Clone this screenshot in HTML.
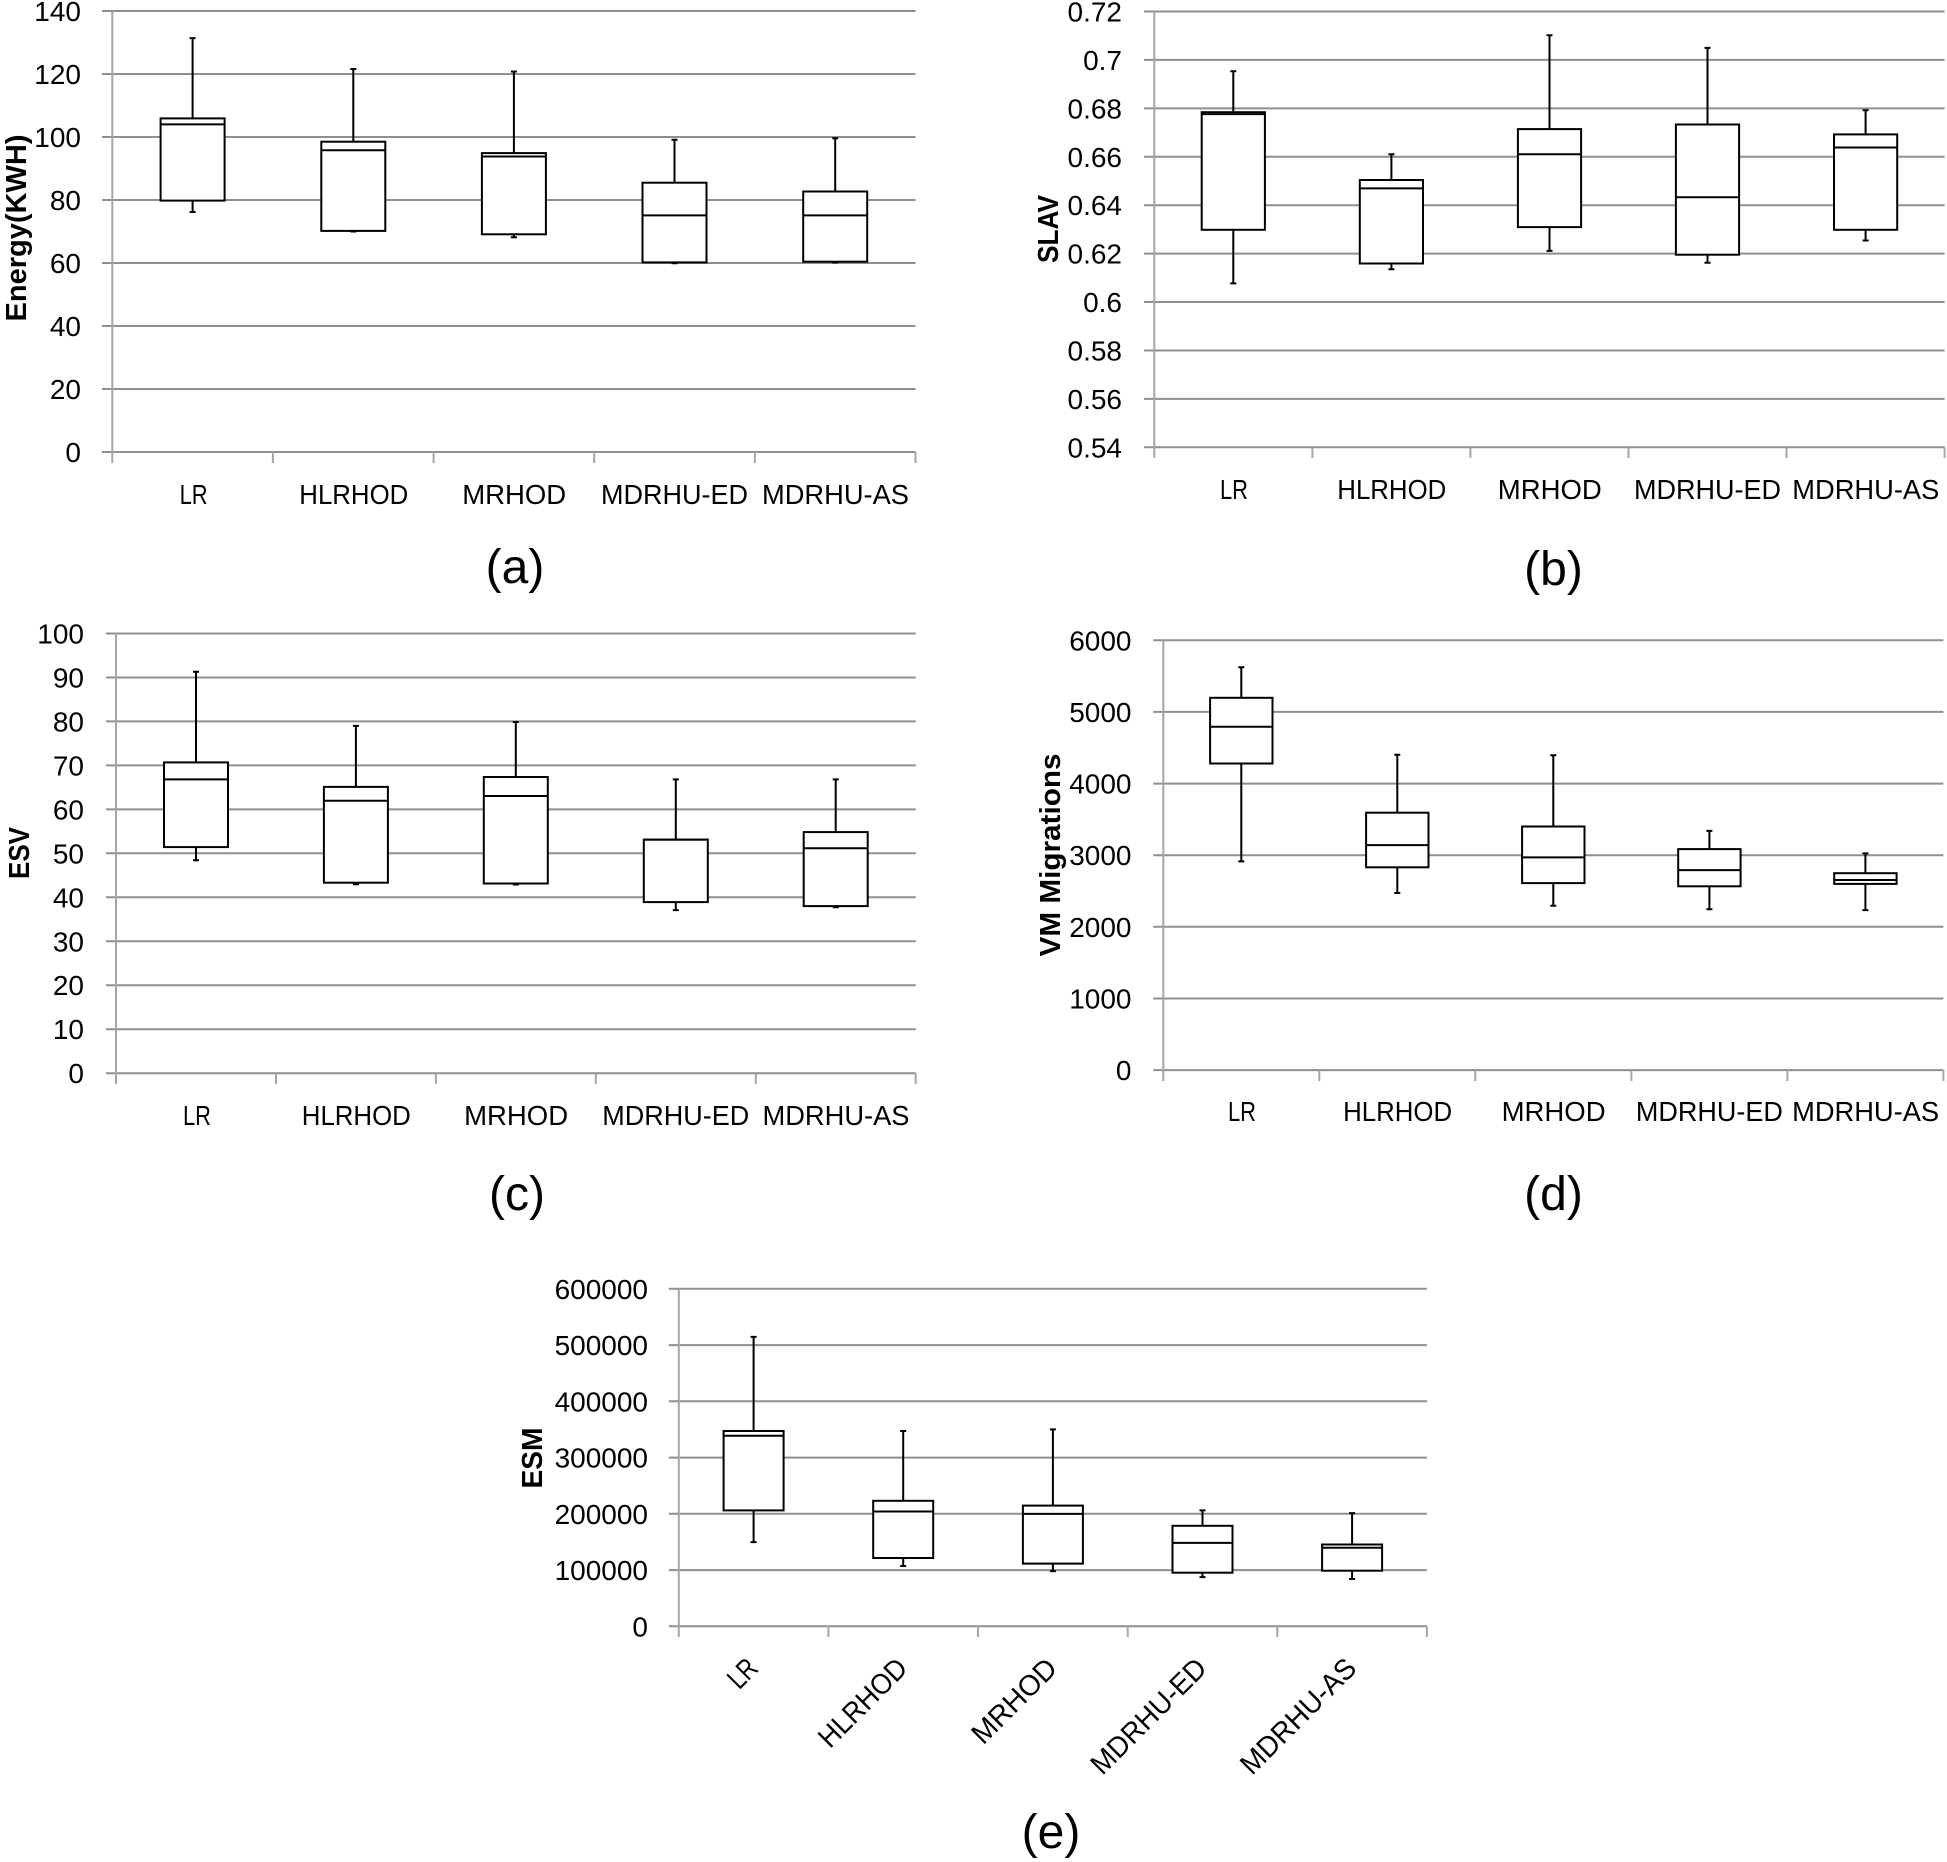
<!DOCTYPE html>
<html><head><meta charset="utf-8"><style>
html,body{margin:0;padding:0;background:#fff;}
svg{display:block;}
.g{stroke:#8f8f8f;stroke-width:2;fill:none}
.ax{stroke:#a6a6a6;stroke-width:2;fill:none}
.b{fill:#fff;stroke:#000;stroke-width:2}
.w{stroke:#000;stroke-width:2;fill:none}
.t{font-family:"Liberation Sans",Arial,sans-serif;font-size:28px;fill:#000}
.yl{font-family:"Liberation Sans",Arial,sans-serif;font-size:29px;font-weight:bold;fill:#000}
.cap{font-family:"Liberation Sans",Arial,sans-serif;font-size:48px;fill:#000}
</style></head><body>
<svg width="1947" height="1862" viewBox="0 0 1947 1862" xmlns="http://www.w3.org/2000/svg">
<rect width="1947" height="1862" fill="#fff"/>

<!-- ===== Panel A ===== -->
<path class="g" d="M102 452H915.5M102 389H915.5M102 326H915.5M102 263H915.5M102 200H915.5M102 137H915.5M102 74H915.5M102 11H915.5"/>
<path class="ax" d="M112.3 11V463M272.9 452V463M433.6 452V463M594.2 452V463M754.9 452V463M915.5 452V463"/>
<g class="t" text-anchor="end">
<text x="81" y="462">0</text><text x="81" y="399">20</text><text x="81" y="336">40</text><text x="81" y="273">60</text>
<text x="81" y="210">80</text><text x="81" y="147">100</text><text x="81" y="84">120</text><text x="81" y="21">140</text>
</g>
<rect class="b" x="160.6" y="118.4" width="64" height="82.2"/>
<path class="w" d="M192.6 118.4V38.1M189.6 38.1H195.6M192.6 200.6V212M189.6 212H195.6M160.6 124.4H224.6"/>
<rect class="b" x="321.3" y="141.7" width="64" height="89.2"/>
<path class="w" d="M353.3 141.7V69M350.3 69H356.3M353.3 230.9V231.5M350.3 231.5H356.3M321.3 150.2H385.3"/>
<rect class="b" x="481.9" y="153.1" width="64" height="81.2"/>
<path class="w" d="M513.9 153.1V71.5M510.9 71.5H516.9M513.9 234.3V237.2M510.9 237.2H516.9M481.9 156.5H545.9"/>
<rect class="b" x="642.5" y="182.7" width="64" height="79.7"/>
<path class="w" d="M674.5 182.7V139.8M671.5 139.8H677.5M674.5 262.4V263.3M671.5 263.3H677.5M642.5 215.4H706.5"/>
<rect class="b" x="803.2" y="191.5" width="64" height="70.2"/>
<path class="w" d="M835.2 191.5V138.3M832.2 138.3H838.2M835.2 261.7V262.4M832.2 262.4H838.2M803.2 215.4H867.2"/>
<g class="t" text-anchor="middle">
<text x="193.6" y="504" textLength="28" lengthAdjust="spacingAndGlyphs">LR</text>
<text x="353.8" y="504" textLength="109" lengthAdjust="spacingAndGlyphs">HLRHOD</text>
<text x="514.2" y="504" textLength="104" lengthAdjust="spacingAndGlyphs">MRHOD</text>
<text x="674.5" y="504" textLength="147" lengthAdjust="spacingAndGlyphs">MDRHU-ED</text>
<text x="835.5" y="504" textLength="147" lengthAdjust="spacingAndGlyphs">MDRHU-AS</text>
</g>
<text class="yl" text-anchor="middle" transform="translate(26,228) rotate(-90)" textLength="187" lengthAdjust="spacingAndGlyphs">Energy(KWH)</text>
<text class="cap" x="515" y="583" text-anchor="middle">(a)</text>

<!-- ===== Panel B ===== -->
<path class="g" d="M1144 447.3H1944.6M1144 398.9H1944.6M1144 350.5H1944.6M1144 302H1944.6M1144 253.6H1944.6M1144 205.2H1944.6M1144 156.8H1944.6M1144 108.4H1944.6M1144 59.9H1944.6M1144 11.5H1944.6"/>
<path class="ax" d="M1154.3 11.5V458M1312.4 447.3V458M1470.4 447.3V458M1628.5 447.3V458M1786.5 447.3V458M1944.6 447.3V458"/>
<g class="t" text-anchor="end">
<text x="1122" y="457.3">0.54</text><text x="1122" y="408.9">0.56</text><text x="1122" y="360.5">0.58</text>
<text x="1122" y="312">0.6</text><text x="1122" y="263.6">0.62</text><text x="1122" y="215.2">0.64</text>
<text x="1122" y="166.8">0.66</text><text x="1122" y="118.4">0.68</text><text x="1122" y="69.9">0.7</text><text x="1122" y="21.5">0.72</text>
</g>
<rect class="b" x="1201.7" y="112.2" width="63.2" height="117.6"/>
<path class="w" d="M1233.3 112.2V71.2M1230.3 71.2H1236.3M1233.3 229.8V283.4M1230.3 283.4H1236.3M1201.7 114.1H1264.9"/>
<rect class="b" x="1359.8" y="180" width="63.2" height="83.5"/>
<path class="w" d="M1391.4 180V154.3M1388.4 154.3H1394.4M1391.4 263.5V269.2M1388.4 269.2H1394.4M1359.8 188.4H1423"/>
<rect class="b" x="1517.9" y="129.1" width="63.2" height="98"/>
<path class="w" d="M1549.5 129.1V35.2M1546.5 35.2H1552.5M1549.5 227.1V250.9M1546.5 250.9H1552.5M1517.9 154.3H1581.1"/>
<rect class="b" x="1675.9" y="124.5" width="63.2" height="130.2"/>
<path class="w" d="M1707.5 124.5V47.9M1704.5 47.9H1710.5M1707.5 254.7V262.7M1704.5 262.7H1710.5M1675.9 197.2H1739.1"/>
<rect class="b" x="1834" y="134.4" width="63.2" height="95.4"/>
<path class="w" d="M1865.6 134.4V110.3M1862.6 110.3H1868.6M1865.6 229.8V240.5M1862.6 240.5H1868.6M1834 147.5H1897.2"/>
<g class="t" text-anchor="middle">
<text x="1234" y="499" textLength="28" lengthAdjust="spacingAndGlyphs">LR</text>
<text x="1391.8" y="499" textLength="109" lengthAdjust="spacingAndGlyphs">HLRHOD</text>
<text x="1549.8" y="499" textLength="104" lengthAdjust="spacingAndGlyphs">MRHOD</text>
<text x="1707.5" y="499" textLength="147" lengthAdjust="spacingAndGlyphs">MDRHU-ED</text>
<text x="1865.8" y="499" textLength="147" lengthAdjust="spacingAndGlyphs">MDRHU-AS</text>
</g>
<text class="yl" text-anchor="middle" transform="translate(1058,229) rotate(-90)" textLength="68" lengthAdjust="spacingAndGlyphs">SLAV</text>
<text class="cap" x="1553.5" y="585" text-anchor="middle">(b)</text>

<!-- ===== Panel C ===== -->
<path class="g" d="M106 1073.2H915.7M106 1029.2H915.7M106 985.2H915.7M106 941.3H915.7M106 897.3H915.7M106 853.3H915.7M106 809.4H915.7M106 765.4H915.7M106 721.4H915.7M106 677.5H915.7M106 633.5H915.7"/>
<path class="ax" d="M116 633.5V1084M276 1073.2V1084M435.9 1073.2V1084M595.8 1073.2V1084M755.8 1073.2V1084M915.7 1073.2V1084"/>
<g class="t" text-anchor="end">
<text x="84" y="1083.2">0</text><text x="84" y="1039.2">10</text><text x="84" y="995.2">20</text><text x="84" y="951.3">30</text>
<text x="84" y="907.3">40</text><text x="84" y="863.3">50</text><text x="84" y="819.4">60</text><text x="84" y="775.4">70</text>
<text x="84" y="731.4">80</text><text x="84" y="687.5">90</text><text x="84" y="643.5">100</text>
</g>
<rect class="b" x="164" y="762.4" width="64" height="84.7"/>
<path class="w" d="M196 762.4V671.7M193 671.7H199M196 847.1V860.2M193 860.2H199M164 779.4H228"/>
<rect class="b" x="323.9" y="786.9" width="64" height="95.8"/>
<path class="w" d="M355.9 786.9V725.9M352.9 725.9H358.9M355.9 882.7V884.3M352.9 884.3H358.9M323.9 800.8H387.9"/>
<rect class="b" x="483.8" y="777" width="64" height="106.5"/>
<path class="w" d="M515.8 777V722M512.8 722H518.8M515.8 883.5V884.5M512.8 884.5H518.8M483.8 796H547.8"/>
<rect class="b" x="643.8" y="839.6" width="64" height="62.5"/>
<path class="w" d="M675.8 839.6V779.4M672.8 779.4H678.8M675.8 902.1V910.1M672.8 910.1H678.8M643.8 839.6H707.8"/>
<rect class="b" x="803.7" y="832.1" width="64" height="74"/>
<path class="w" d="M835.7 832.1V779.4M832.7 779.4H838.7M835.7 906.1V907.3M832.7 907.3H838.7M803.7 848.3H867.7"/>
<g class="t" text-anchor="middle">
<text x="197" y="1125" textLength="28" lengthAdjust="spacingAndGlyphs">LR</text>
<text x="356.3" y="1125" textLength="109" lengthAdjust="spacingAndGlyphs">HLRHOD</text>
<text x="516.1" y="1125" textLength="104" lengthAdjust="spacingAndGlyphs">MRHOD</text>
<text x="675.8" y="1125" textLength="147" lengthAdjust="spacingAndGlyphs">MDRHU-ED</text>
<text x="836" y="1125" textLength="147" lengthAdjust="spacingAndGlyphs">MDRHU-AS</text>
</g>
<text class="yl" text-anchor="middle" transform="translate(29,853) rotate(-90)" textLength="52" lengthAdjust="spacingAndGlyphs">ESV</text>
<text class="cap" x="517" y="1210" text-anchor="middle">(c)</text>

<!-- ===== Panel D ===== -->
<path class="g" d="M1153.3 1070.1H1943.4M1153.3 998.5H1943.4M1153.3 926.8H1943.4M1153.3 855.2H1943.4M1153.3 783.6H1943.4M1153.3 711.9H1943.4M1153.3 640.3H1943.4"/>
<path class="ax" d="M1163.3 640.3V1081M1319.3 1070.1V1081M1475.3 1070.1V1081M1631.4 1070.1V1081M1787.4 1070.1V1081M1943.4 1070.1V1081"/>
<g class="t" text-anchor="end">
<text x="1131.5" y="1080.1">0</text><text x="1131.5" y="1008.5">1000</text><text x="1131.5" y="936.8">2000</text>
<text x="1131.5" y="865.2">3000</text><text x="1131.5" y="793.6">4000</text><text x="1131.5" y="721.9">5000</text><text x="1131.5" y="650.3">6000</text>
</g>
<rect class="b" x="1210.1" y="697.8" width="62.4" height="65.7"/>
<path class="w" d="M1241.3 697.8V667.3M1238.3 667.3H1244.3M1241.3 763.5V861.4M1238.3 861.4H1244.3M1210.1 726.7H1272.5"/>
<rect class="b" x="1366.1" y="812.7" width="62.4" height="54.6"/>
<path class="w" d="M1397.3 812.7V754.8M1394.3 754.8H1400.3M1397.3 867.3V893M1394.3 893H1400.3M1366.1 845.1H1428.5"/>
<rect class="b" x="1522.1" y="826.5" width="62.4" height="56.6"/>
<path class="w" d="M1553.3 826.5V755.2M1550.3 755.2H1556.3M1553.3 883.1V905.7M1550.3 905.7H1556.3M1522.1 857.4H1584.5"/>
<rect class="b" x="1678.2" y="849.1" width="62.4" height="37.2"/>
<path class="w" d="M1709.4 849.1V830.9M1706.4 830.9H1712.4M1709.4 886.3V909.3M1706.4 909.3H1712.4M1678.2 870.1H1740.6"/>
<rect class="b" x="1834.2" y="873.2" width="62.4" height="10.7"/>
<path class="w" d="M1865.4 873.2V853.4M1862.4 853.4H1868.4M1865.4 883.9V910.1M1862.4 910.1H1868.4M1834.2 880H1896.6"/>
<g class="t" text-anchor="middle">
<text x="1242" y="1121" textLength="28" lengthAdjust="spacingAndGlyphs">LR</text>
<text x="1397.6" y="1121" textLength="109" lengthAdjust="spacingAndGlyphs">HLRHOD</text>
<text x="1553.6" y="1121" textLength="104" lengthAdjust="spacingAndGlyphs">MRHOD</text>
<text x="1709.4" y="1121" textLength="147" lengthAdjust="spacingAndGlyphs">MDRHU-ED</text>
<text x="1865.6" y="1121" textLength="147" lengthAdjust="spacingAndGlyphs">MDRHU-AS</text>
</g>
<text class="yl" text-anchor="middle" transform="translate(1060,855) rotate(-90)" textLength="203" lengthAdjust="spacingAndGlyphs">VM Migrations</text>
<text class="cap" x="1553.5" y="1210" text-anchor="middle">(d)</text>

<!-- ===== Panel E ===== -->
<path class="g" d="M668.8 1626.3H1426.9M668.8 1570.1H1426.9M668.8 1513.8H1426.9M668.8 1457.6H1426.9M668.8 1401.3H1426.9M668.8 1345.1H1426.9M668.8 1288.8H1426.9"/>
<path class="ax" d="M678.8 1288.8V1637M828.4 1626.3V1637M978 1626.3V1637M1127.7 1626.3V1637M1277.3 1626.3V1637M1426.9 1626.3V1637"/>
<g class="t" text-anchor="end">
<text x="648" y="1636.3">0</text><text x="648" y="1580.1">100000</text><text x="648" y="1523.8">200000</text>
<text x="648" y="1467.6">300000</text><text x="648" y="1411.3">400000</text><text x="648" y="1355.1">500000</text><text x="648" y="1298.8">600000</text>
</g>
<rect class="b" x="723.6" y="1431" width="60" height="79.4"/>
<path class="w" d="M753.6 1431V1336.9M750.6 1336.9H756.6M753.6 1510.4V1542.1M750.6 1542.1H756.6M723.6 1435.7H783.6"/>
<rect class="b" x="873.2" y="1500.8" width="60" height="57.2"/>
<path class="w" d="M903.2 1500.8V1431M900.2 1431H906.2M903.2 1558V1566M900.2 1566H906.2M873.2 1511.5H933.2"/>
<rect class="b" x="1022.9" y="1505.6" width="60" height="58"/>
<path class="w" d="M1052.9 1505.6V1429.4M1049.9 1429.4H1055.9M1052.9 1563.6V1571.1M1049.9 1571.1H1055.9M1022.9 1513.9H1082.9"/>
<rect class="b" x="1172.5" y="1525.8" width="60" height="46.9"/>
<path class="w" d="M1202.5 1525.8V1510.4M1199.5 1510.4H1205.5M1202.5 1572.7V1577.1M1199.5 1577.1H1205.5M1172.5 1542.9H1232.5"/>
<rect class="b" x="1322.1" y="1544.5" width="60" height="26.2"/>
<path class="w" d="M1352.1 1544.5V1513.1M1349.1 1513.1H1355.1M1352.1 1570.7V1579M1349.1 1579H1355.1M1322.1 1547.7H1382.1"/>
<g class="t" text-anchor="end" style="font-size:29px">
<text transform="translate(759.6,1670) rotate(-45)" textLength="29" lengthAdjust="spacingAndGlyphs">LR</text>
<text transform="translate(909.2,1670) rotate(-45)" textLength="112" lengthAdjust="spacingAndGlyphs">HLRHOD</text>
<text transform="translate(1058.9,1670) rotate(-45)" textLength="107" lengthAdjust="spacingAndGlyphs">MRHOD</text>
<text transform="translate(1208.5,1670) rotate(-45)" textLength="150" lengthAdjust="spacingAndGlyphs">MDRHU-ED</text>
<text transform="translate(1358.1,1670) rotate(-45)" textLength="150" lengthAdjust="spacingAndGlyphs">MDRHU-AS</text>
</g>
<text class="yl" text-anchor="middle" transform="translate(542,1458) rotate(-90)" textLength="61" lengthAdjust="spacingAndGlyphs">ESM</text>
<text class="cap" x="1051" y="1848" text-anchor="middle">(e)</text>
</svg>
</body></html>
